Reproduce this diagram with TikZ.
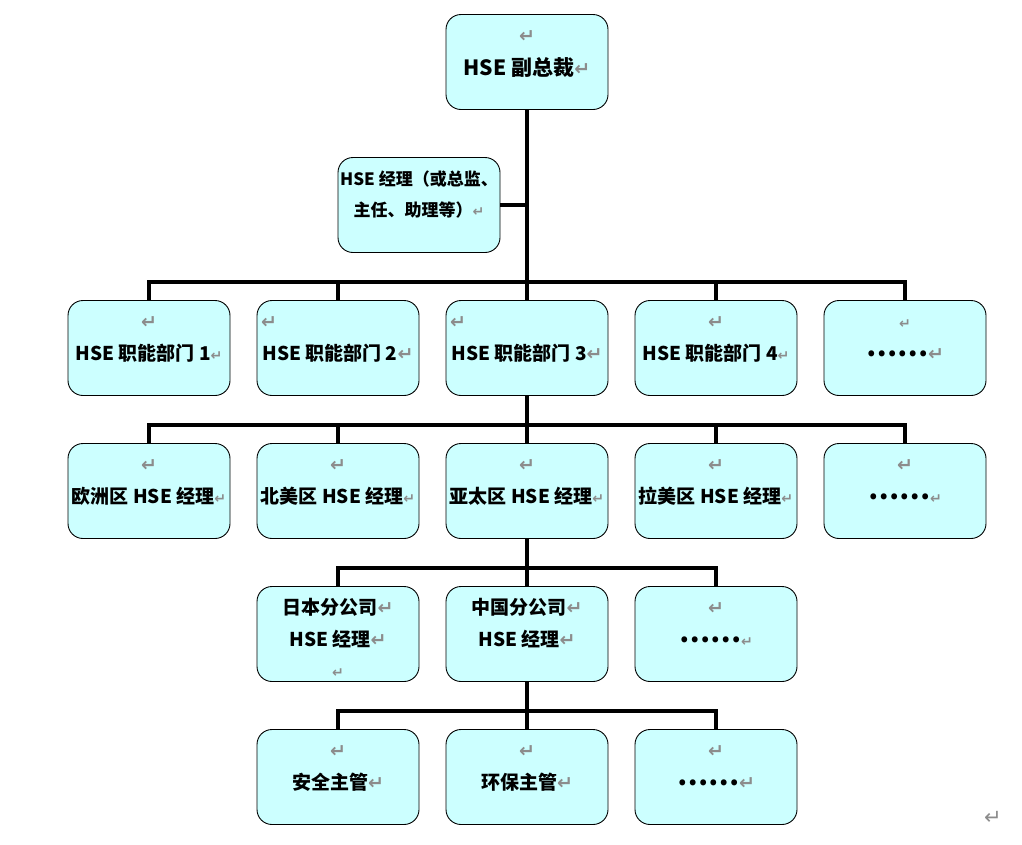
\documentclass[tikz,border=0pt]{standalone}
\usepackage{fontspec}
\newfontfamily\cjk{Noto Sans CJK SC}
\newfontfamily\retfont{DejaVu Sans}
\definecolor{boxfill}{HTML}{CCFFFF}
\definecolor{retgray}{HTML}{8C8C8C}
\newcommand\rt{{\retfont\fontsize{19}{19}\selectfont\textcolor{retgray}{↵}}}
\newcommand\rts{{\retfont\fontsize{14}{14}\selectfont\textcolor{retgray}{↵}}}
\newcommand\dotsline{\raisebox{4pt}{\scalebox{1.45}{……}}}
\newcommand\bx[1]{\parbox[c][95pt][t]{162pt}{\centering\rule{0pt}{28pt}#1\par}}
\begin{document}
\begin{tikzpicture}[x=1pt,y=-1pt,
  orgbox/.style={draw=black, line width=0.9pt, fill=boxfill, rounded corners=15pt,
    minimum width=162pt, minimum height=95pt, inner sep=0pt,
    font=\cjk\bfseries\fontsize{19}{31.5}\selectfont},
  conn/.style={line width=4pt, line join=miter}]
\fill[white] (0,0) rectangle (1022,844);
\useasboundingbox (0,0) rectangle (1022,844);

% level 0
\node[orgbox, font=\cjk\bfseries\fontsize{21}{33}\selectfont] (top) at (527,62) {\bx{\rt\\HSE 副总裁\rt}};
\node[orgbox, font=\cjk\bfseries\fontsize{17}{31}\selectfont] (mgr) at (419,205) {\bx{HSE 经理（或总监、\\主任、助理等）\rts}};
% level 1
\node[orgbox] (r1a) at (149,348) {\bx{\rt\\HSE 职能部门 1\rts}};
\node[orgbox] (r1b) at (338,348) {\bx{\hspace*{4pt}\rt\hfill\null\\HSE 职能部门 2\rt}};
\node[orgbox] (r1c) at (527,348) {\bx{\hspace*{4pt}\rt\hfill\null\\HSE 职能部门 3\rt}};
\node[orgbox] (r1d) at (716,348) {\bx{\rt\\HSE 职能部门 4\rts}};
\node[orgbox] (r1e) at (905,348) {\bx{\rts\\\dotsline\rt}};
% level 2
\node[orgbox] (r2a) at (149,491) {\bx{\rt\\欧洲区 HSE 经理\rts}};
\node[orgbox] (r2b) at (338,491) {\bx{\rt\\北美区 HSE 经理\rts}};
\node[orgbox] (r2c) at (527,491) {\bx{\rt\\亚太区 HSE 经理\rts}};
\node[orgbox] (r2d) at (716,491) {\bx{\rt\\拉美区 HSE 经理\rts}};
\node[orgbox] (r2e) at (905,491) {\bx{\rt\\\dotsline\rts}};
% level 3
\node[orgbox] (r3a) at (338,634) {\bx{日本分公司\rt\\HSE 经理\rt\\\rts}};
\node[orgbox] (r3b) at (527,634) {\bx{中国分公司\rt\\HSE 经理\rt}};
\node[orgbox] (r3c) at (716,634) {\bx{\rt\\\dotsline\rts}};
% level 4
\node[orgbox] (r4a) at (338,777) {\bx{\rt\\安全主管\rt}};
\node[orgbox] (r4b) at (527,777) {\bx{\rt\\环保主管\rt}};
\node[orgbox] (r4c) at (716,777) {\bx{\rt\\\dotsline\rt}};

\node (endmark) at (993,818) {\retfont\fontsize{21}{21}\selectfont\textcolor{retgray}{↵}};

% connectors
\draw[conn] (top.south) -- (r1c.north);
\draw[conn] (mgr.east) -- (mgr.east -| top.south);
\draw[conn] (r1a.north) -- ++(0,-18) -| (r1e.north);
\foreach \n in {r1b,r1d} \draw[conn] (\n.north) -- ++(0,-18);

\draw[conn] (r1c.south) -- (r2c.north);
\draw[conn] (r2a.north) -- ++(0,-18) -| (r2e.north);
\foreach \n in {r2b,r2d} \draw[conn] (\n.north) -- ++(0,-18);

\draw[conn] (r2c.south) -- (r3b.north);
\draw[conn] (r3a.north) -- ++(0,-18) -| (r3c.north);

\draw[conn] (r3b.south) -- (r4b.north);
\draw[conn] (r4a.north) -- ++(0,-18) -| (r4c.north);
\end{tikzpicture}
\end{document}
